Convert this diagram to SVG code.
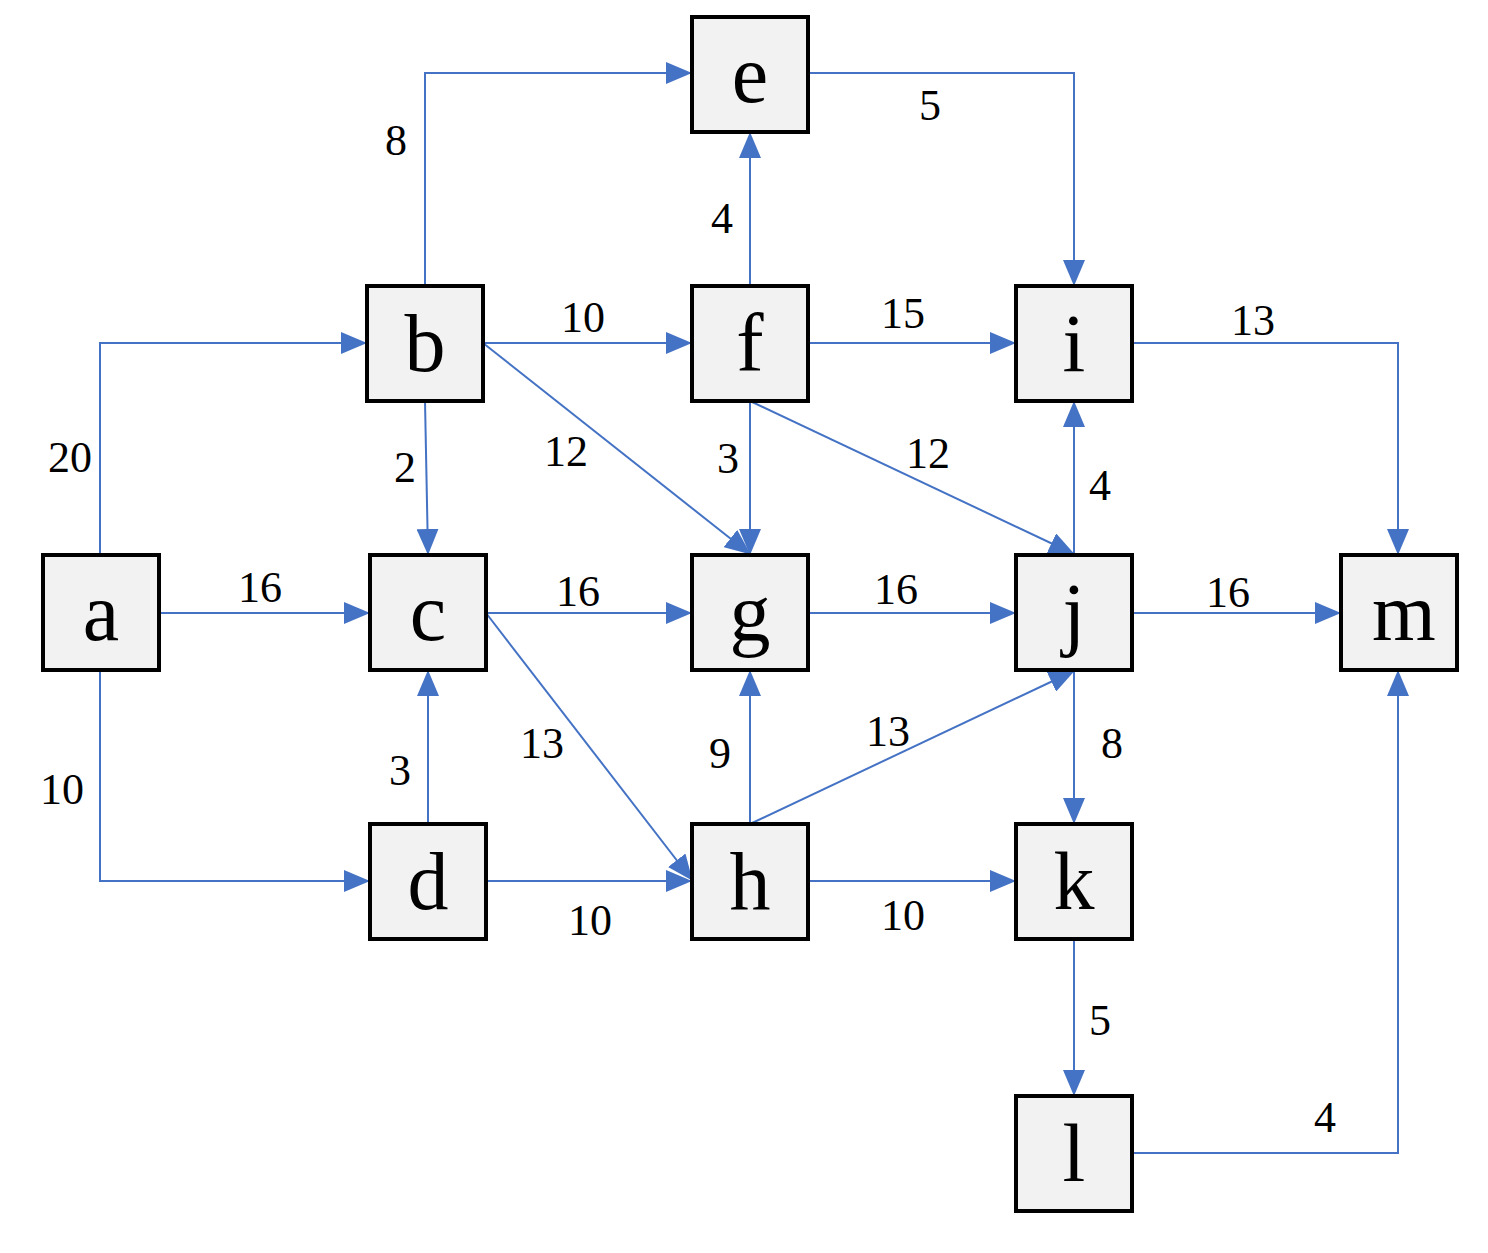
<svg xmlns="http://www.w3.org/2000/svg" width="1488" height="1253" viewBox="0 0 1488 1253">
<style>
.n rect{fill:#f2f2f2;stroke:#000;stroke-width:4}
.n text{font-family:"Liberation Serif",serif;font-size:82px;text-anchor:middle}
.e path{fill:none;stroke:#4472c4;stroke-width:2;marker-end:url(#ah)}
.l text{font-family:"Liberation Serif",serif;font-size:44px;text-anchor:middle}
</style>
<defs>
<marker id="ah" markerUnits="userSpaceOnUse" markerWidth="26" markerHeight="22" refX="25" refY="11" orient="auto">
<path d="M0,0 L26,11 L0,22 Z" fill="#4472c4"/>
</marker>
</defs>
<rect width="1488" height="1253" fill="#fff"/>
<g class="e" id="connectors">
<path d="M100,555 V343 H366"/>
<path d="M159,613 H369"/>
<path d="M100,670 V881 H369"/>
<path d="M425,286 V73 H691"/>
<path d="M483,343 H691"/>
<path d="M425,401 L428,554"/>
<path d="M483,343 L750,554"/>
<path d="M750,286 V133"/>
<path d="M808,343 H1015"/>
<path d="M750,401 V554"/>
<path d="M750,401 L1074,554"/>
<path d="M808,73 H1074 V285"/>
<path d="M1132,343 H1398 V554"/>
<path d="M1074,555 V402"/>
<path d="M486,613 H691"/>
<path d="M486,613 L692,880"/>
<path d="M808,613 H1015"/>
<path d="M1132,613 H1340"/>
<path d="M1074,670 V823"/>
<path d="M428,824 V671"/>
<path d="M486,881 H691"/>
<path d="M750,824 V671"/>
<path d="M750,824 L1074,671"/>
<path d="M808,881 H1015"/>
<path d="M1074,939 V1095"/>
<path d="M1132,1153 H1398 V671"/>
</g>
<g class="l" id="labels">
<text x="70" y="472">20</text>
<text x="260" y="602">16</text>
<text x="62" y="804">10</text>
<text x="396" y="155">8</text>
<text x="583" y="332">10</text>
<text x="405" y="482">2</text>
<text x="566" y="466">12</text>
<text x="722" y="233">4</text>
<text x="903" y="328">15</text>
<text x="728" y="473">3</text>
<text x="928" y="468">12</text>
<text x="930" y="120">5</text>
<text x="1253" y="335">13</text>
<text x="1100" y="500">4</text>
<text x="578" y="606">16</text>
<text x="542" y="758">13</text>
<text x="896" y="604">16</text>
<text x="1228" y="607">16</text>
<text x="1112" y="758">8</text>
<text x="400" y="785">3</text>
<text x="590" y="935">10</text>
<text x="720" y="768">9</text>
<text x="888" y="746">13</text>
<text x="903" y="930">10</text>
<text x="1100" y="1035">5</text>
<text x="1325" y="1132">4</text>
</g>
<g class="n" id="e"><rect x="692" y="17" width="116" height="115"/><text x="750" y="102">e</text></g>
<g class="n" id="b"><rect x="367" y="286" width="116" height="115"/><text x="425" y="371">b</text></g>
<g class="n" id="f"><rect x="692" y="286" width="116" height="115"/><text x="750" y="371">f</text></g>
<g class="n" id="i"><rect x="1016" y="286" width="116" height="115"/><text x="1074" y="371">i</text></g>
<g class="n" id="a"><rect x="43" y="555" width="116" height="115"/><text x="101" y="640">a</text></g>
<g class="n" id="c"><rect x="370" y="555" width="116" height="115"/><text x="428" y="640">c</text></g>
<g class="n" id="g"><rect x="692" y="555" width="116" height="115"/><text x="750" y="640">g</text></g>
<g class="n" id="j"><rect x="1016" y="555" width="116" height="115"/><text x="1074" y="640">j</text></g>
<g class="n" id="m"><rect x="1341" y="555" width="116" height="115"/><text x="1404" y="640">m</text></g>
<g class="n" id="d"><rect x="370" y="824" width="116" height="115"/><text x="428" y="909">d</text></g>
<g class="n" id="h"><rect x="692" y="824" width="116" height="115"/><text x="750" y="909">h</text></g>
<g class="n" id="k"><rect x="1016" y="824" width="116" height="115"/><text x="1074" y="909">k</text></g>
<g class="n" id="l"><rect x="1016" y="1096" width="116" height="115"/><text x="1074" y="1181">l</text></g>
</svg>
